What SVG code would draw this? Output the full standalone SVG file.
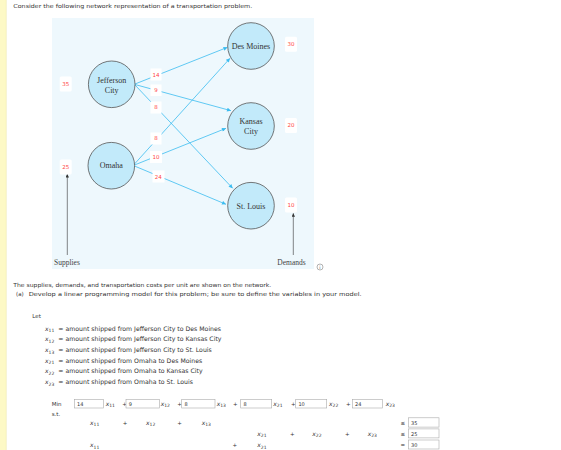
<svg xmlns="http://www.w3.org/2000/svg" width="561" height="450" viewBox="0 0 561 450">
<defs>
<style>
.t{font-family:"DejaVu Sans",Verdana,sans-serif;font-size:5.5px;fill:#333}
.d{font-family:"DejaVu Sans",Verdana,sans-serif;font-size:6.2px;fill:#333}
.v{font-family:"DejaVu Sans",Verdana,sans-serif;font-size:6px;font-style:italic;fill:#333}
.s{font-size:4.5px;font-style:normal}
.nt{font-family:"Liberation Serif","Times New Roman",serif;font-size:8px;fill:#333;text-anchor:middle}
.lab{font-family:"Liberation Serif","Times New Roman",serif;font-size:7.5px;fill:#444}
.node{fill:#c2eafa;stroke:#555;stroke-width:0.8}
.edge{stroke:#3bbcf0;stroke-width:0.8;fill:none;marker-end:url(#ab)}
.num{font-family:"DejaVu Sans",Verdana,sans-serif;font-size:5.5px;fill:#f44;text-anchor:middle}
.wb{fill:#fff}
.box{fill:#fff;stroke:#aaa;stroke-width:0.6}
.bt{font-family:"DejaVu Sans",Verdana,sans-serif;font-size:5px;fill:#333}
</style>
<marker id="ab" viewBox="0 0 10 10" refX="10" refY="5" markerWidth="5" markerHeight="4" markerUnits="userSpaceOnUse" orient="auto">
<path d="M0,0 L10,5 L0,10 z" fill="#3bbcf0"/>
</marker>
<marker id="ak" viewBox="0 0 10 10" refX="10" refY="5" markerWidth="5" markerHeight="3.5" markerUnits="userSpaceOnUse" orient="auto">
<path d="M0,0 L10,5 L0,10 z" fill="#333"/>
</marker>
</defs>
<rect x="0" y="0" width="561" height="450" fill="#fff"/>
<rect x="0" y="0" width="6" height="450" fill="#fdf9c6"/>
<line x1="6.3" y1="0" x2="6.3" y2="450" stroke="#efe7a6" stroke-width="0.6"/>

<text class="t" x="13.3" y="7.5" textLength="239" lengthAdjust="spacingAndGlyphs">Consider the following network representation of a transportation problem.</text>

<rect x="52" y="18" width="262" height="251" fill="#eef8fd"/>

<g id="connectors">
<line class="edge" x1="135" y1="84" x2="227.5" y2="47.3"/>
<line class="edge" x1="135" y1="84.5" x2="231" y2="110.7"/>
<line class="edge" x1="135" y1="85" x2="232.7" y2="188.3"/>
<line class="edge" x1="134.5" y1="164" x2="230" y2="58.3"/>
<line class="edge" x1="134.5" y1="165" x2="226" y2="128.3"/>
<line class="edge" x1="134.5" y1="166" x2="226" y2="204.3"/>
<line x1="67.3" y1="255" x2="67.3" y2="174" stroke="#333" stroke-width="0.6" marker-end="url(#ak)"/>
<line x1="293.3" y1="255" x2="293.3" y2="213.3" stroke="#333" stroke-width="0.6" marker-end="url(#ak)"/>
</g>

<g id="costs">
<rect class="wb" x="150.5" y="68.5" width="11" height="12"/>
<text class="num" x="156" y="77.2">14</text>
<rect class="wb" x="150.5" y="84.5" width="11" height="11.5"/>
<text class="num" x="156" y="92.3">9</text>
<rect class="wb" x="150.5" y="101.5" width="11" height="12"/>
<text class="num" x="156" y="109.3">8</text>
<rect class="wb" x="150.5" y="132.5" width="11" height="12"/>
<text class="num" x="156" y="140.3">8</text>
<rect class="wb" x="150" y="151" width="12" height="12"/>
<text class="num" x="156" y="159.3">10</text>
<rect class="wb" x="152.5" y="170.5" width="12" height="12"/>
<text class="num" x="158.3" y="178.7">24</text>
</g>

<g id="n-jefferson">
<circle class="node" cx="111.7" cy="84.3" r="23.3"/>
<text class="nt" x="111.7" y="83.3">Jefferson</text>
<text class="nt" x="111.7" y="93.3">City</text>
<rect class="wb" x="59.7" y="76.5" width="12" height="15" rx="1.5"/>
<text class="num" x="65.7" y="85.5">35</text>
</g>
<g id="n-omaha">
<circle class="node" cx="111.3" cy="165.7" r="23.3"/>
<text class="nt" x="111.3" y="168.3">Omaha</text>
<rect class="wb" x="59.7" y="159.5" width="12" height="15" rx="1.5"/>
<text class="num" x="65.7" y="168.7">25</text>
</g>
<g id="n-desmoines">
<circle class="node" cx="251" cy="46" r="23.3"/>
<text class="nt" x="251" y="49">Des Moines</text>
<rect class="wb" x="285" y="36.7" width="12" height="15" rx="1.5"/>
<text class="num" x="291" y="46">30</text>
</g>
<g id="n-kansas">
<circle class="node" cx="251" cy="126" r="23.3"/>
<text class="nt" x="251" y="123.5">Kansas</text>
<text class="nt" x="251" y="133.5">City</text>
<rect class="wb" x="285" y="118" width="12" height="15" rx="1.5"/>
<text class="num" x="291" y="127.3">20</text>
</g>
<g id="n-stlouis">
<circle class="node" cx="251" cy="205.7" r="23.3"/>
<text class="nt" x="251" y="209">St. Louis</text>
<rect class="wb" x="285" y="197.5" width="12" height="15" rx="1.5"/>
<text class="num" x="291" y="206.7">10</text>
</g>

<text class="lab" x="54" y="265">Supplies</text>
<text class="lab" x="277.3" y="265">Demands</text>
<g id="info">
<circle cx="320" cy="267" r="3" fill="#fff" stroke="#666" stroke-width="0.5"/>
<text x="320" y="269" font-family="DejaVu Sans,sans-serif" font-size="4.5" fill="#555" text-anchor="middle">i</text>
</g>

<text class="t" x="13.3" y="286.5" textLength="258" lengthAdjust="spacingAndGlyphs">The supplies, demands, and transportation costs per unit are shown on the network.</text>
<text class="t" x="16" y="296.3">(a)</text>
<text class="t" x="28.7" y="296.3" textLength="333" lengthAdjust="spacingAndGlyphs">Develop a linear programming model for this problem; be sure to define the variables in your model.</text>
<text class="t" x="32.3" y="318" font-size="5" fill="#555">Let</text>

<g id="defs-vars">
<text class="v" x="45" y="330.5">x<tspan class="s" dy="1.6">11</tspan></text>
<text class="d" x="58.3" y="330.5">= amount shipped from Jefferson City to Des Moines</text>
<text class="v" x="45" y="341.2">x<tspan class="s" dy="1.6">12</tspan></text>
<text class="d" x="58.3" y="341.2">= amount shipped from Jefferson City to Kansas City</text>
<text class="v" x="45" y="351.9">x<tspan class="s" dy="1.6">13</tspan></text>
<text class="d" x="58.3" y="351.9">= amount shipped from Jefferson City to St. Louis</text>
<text class="v" x="45" y="362.6">x<tspan class="s" dy="1.6">21</tspan></text>
<text class="d" x="58.3" y="362.6">= amount shipped from Omaha to Des Moines</text>
<text class="v" x="45" y="373.3">x<tspan class="s" dy="1.6">22</tspan></text>
<text class="d" x="58.3" y="373.3">= amount shipped from Omaha to Kansas City</text>
<text class="v" x="45" y="384">x<tspan class="s" dy="1.6">23</tspan></text>
<text class="d" x="58.3" y="384">= amount shipped from Omaha to St. Louis</text>
</g>

<g id="model">
<text class="t" x="51.7" y="405.5">Min</text>
<text class="t" x="51.7" y="416.3">s.t.</text>
<rect class="box" x="74.3" y="399.5" width="29" height="8.5"/>
<text class="bt" x="77" y="405.7">14</text>
<text class="v" x="105.7" y="405.5">x<tspan class="s" dy="1.6">11</tspan></text>
<text class="t" x="122.3" y="405.5">+</text>
<rect class="box" x="126" y="399.5" width="33.3" height="8.5"/>
<text class="bt" x="128.7" y="405.7">9</text>
<text class="v" x="160.7" y="405.5">x<tspan class="s" dy="1.6">12</tspan></text>
<text class="t" x="177.3" y="405.5">+</text>
<rect class="box" x="181.7" y="399.5" width="33.3" height="8.5"/>
<text class="bt" x="184.4" y="405.7">8</text>
<text class="v" x="216.7" y="405.5">x<tspan class="s" dy="1.6">13</tspan></text>
<text class="t" x="233" y="405.5">+</text>
<rect class="box" x="240.7" y="399.5" width="31" height="8.5"/>
<text class="bt" x="243.4" y="405.7">8</text>
<text class="v" x="273.3" y="405.5">x<tspan class="s" dy="1.6">21</tspan></text>
<text class="t" x="291" y="405.5">+</text>
<rect class="box" x="295.7" y="399.5" width="31" height="8.5"/>
<text class="bt" x="298.4" y="405.7">10</text>
<text class="v" x="329" y="405.5">x<tspan class="s" dy="1.6">22</tspan></text>
<text class="t" x="346" y="405.5">+</text>
<rect class="box" x="352.3" y="399.5" width="30" height="8.5"/>
<text class="bt" x="355" y="405.7">24</text>
<text class="v" x="385.7" y="405.5">x<tspan class="s" dy="1.6">23</tspan></text>

<text class="v" x="90" y="424.5">x<tspan class="s" dy="1.6">11</tspan></text>
<text class="t" x="122.7" y="424.5">+</text>
<text class="v" x="146" y="424.5">x<tspan class="s" dy="1.6">12</tspan></text>
<text class="t" x="177.3" y="424.5">+</text>
<text class="v" x="201.7" y="424.5">x<tspan class="s" dy="1.6">13</tspan></text>
<text class="t" x="400.5" y="424.5">≤</text>
<rect class="box" x="408.3" y="417.8" width="30.7" height="9.3"/>
<text class="bt" x="411" y="424.5">35</text>

<text class="v" x="257.3" y="435.5">x<tspan class="s" dy="1.6">21</tspan></text>
<text class="t" x="290" y="435.5">+</text>
<text class="v" x="312.3" y="435.5">x<tspan class="s" dy="1.6">22</tspan></text>
<text class="t" x="345" y="435.5">+</text>
<text class="v" x="367.7" y="435.5">x<tspan class="s" dy="1.6">23</tspan></text>
<text class="t" x="400.5" y="435.5">≤</text>
<rect class="box" x="408.3" y="428.9" width="30.7" height="9"/>
<text class="bt" x="411" y="435.5">25</text>

<text class="v" x="90" y="447">x<tspan class="s" dy="1.6">11</tspan></text>
<text class="t" x="232.5" y="447">+</text>
<text class="v" x="257.3" y="447">x<tspan class="s" dy="1.6">21</tspan></text>
<text class="t" x="400.5" y="447">=</text>
<rect class="box" x="408.3" y="440" width="30.7" height="9"/>
<text class="bt" x="411" y="446.8">30</text>
</g>
</svg>
